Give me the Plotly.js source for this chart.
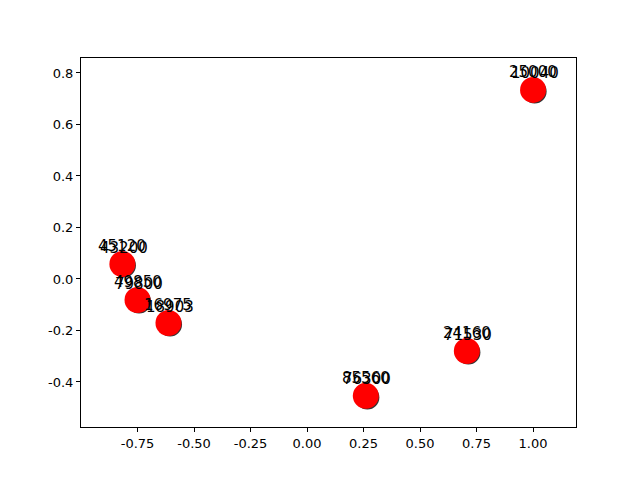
<!DOCTYPE html>
<html>
<head>
<meta charset="utf-8">
<script src="https://cdn.plot.ly/plotly-3.0.1.min.js"></script>
<style>html,body{margin:0;padding:0;background:#fff}#plot{width:640px;height:480px}</style>
</head>
<body>
<div id="plot"></div>
<script>
// red points (drawn on top) and the dark ones hiding just behind them
const redX = [-0.817, -0.750, -0.613, 0.260, 0.707, 1.000];
const redY = [0.058, -0.082, -0.171, -0.454, -0.280, 0.734];
const redLabels = ["45120", "49850", "16975", "85560", "24160", "25000"];

const darkX = [-0.810, -0.743, -0.606, 0.267, 0.714, 1.007];
const darkY = [0.052, -0.088, -0.177, -0.460, -0.286, 0.728];
const darkLabels = ["43200", "79800", "18903", "76300", "71530", "10040"];

const xTicks = [-0.75, -0.5, -0.25, 0.0, 0.25, 0.5, 0.75, 1.0];
const yTicks = [-0.4, -0.2, 0.0, 0.2, 0.4, 0.6, 0.8];

const textFont = { family: "DejaVu Sans", size: 15, color: "#000" };

const traces = [
  {
    type: "scatter", mode: "markers",
    x: darkX, y: darkY,
    marker: { color: "#333", size: 24 },
    cliponaxis: false, hoverinfo: "none"
  },
  {
    type: "scatter", mode: "markers",
    x: redX, y: redY,
    marker: { color: "red", size: 26 },
    cliponaxis: false, hoverinfo: "none"
  }
];

function labelNotes(xs, ys, labels) {
  return labels.map((t, i) => ({
    x: xs[i], y: ys[i], xref: "x", yref: "y", text: t,
    showarrow: false, yshift: 18, font: textFont,
    xanchor: "center", yanchor: "middle"
  }));
}

const axisBase = {
  showgrid: false, zeroline: false, showline: true, mirror: true,
  linecolor: "#000", linewidth: 1, ticks: "outside", ticklen: 4,
  tickcolor: "#000", tickfont: { family: "DejaVu Sans", size: 13, color: "#000" }
};

const layout = {
  width: 640, height: 480,
  margin: { l: 81, r: 64, t: 58, b: 53 },
  paper_bgcolor: "#fff", plot_bgcolor: "#fff",
  showlegend: false,
  annotations: labelNotes(darkX, darkY, darkLabels).concat(labelNotes(redX, redY, redLabels)),
  xaxis: Object.assign({}, axisBase, {
    range: [-1.0, 1.19], tickvals: xTicks,
    ticktext: xTicks.map(v => v.toFixed(2))
  }),
  yaxis: Object.assign({}, axisBase, {
    range: [-0.575, 0.858], tickvals: yTicks,
    ticktext: yTicks.map(v => v.toFixed(1))
  })
};

Plotly.newPlot("plot", traces, layout, { staticPlot: true });
</script>
</body>
</html>
